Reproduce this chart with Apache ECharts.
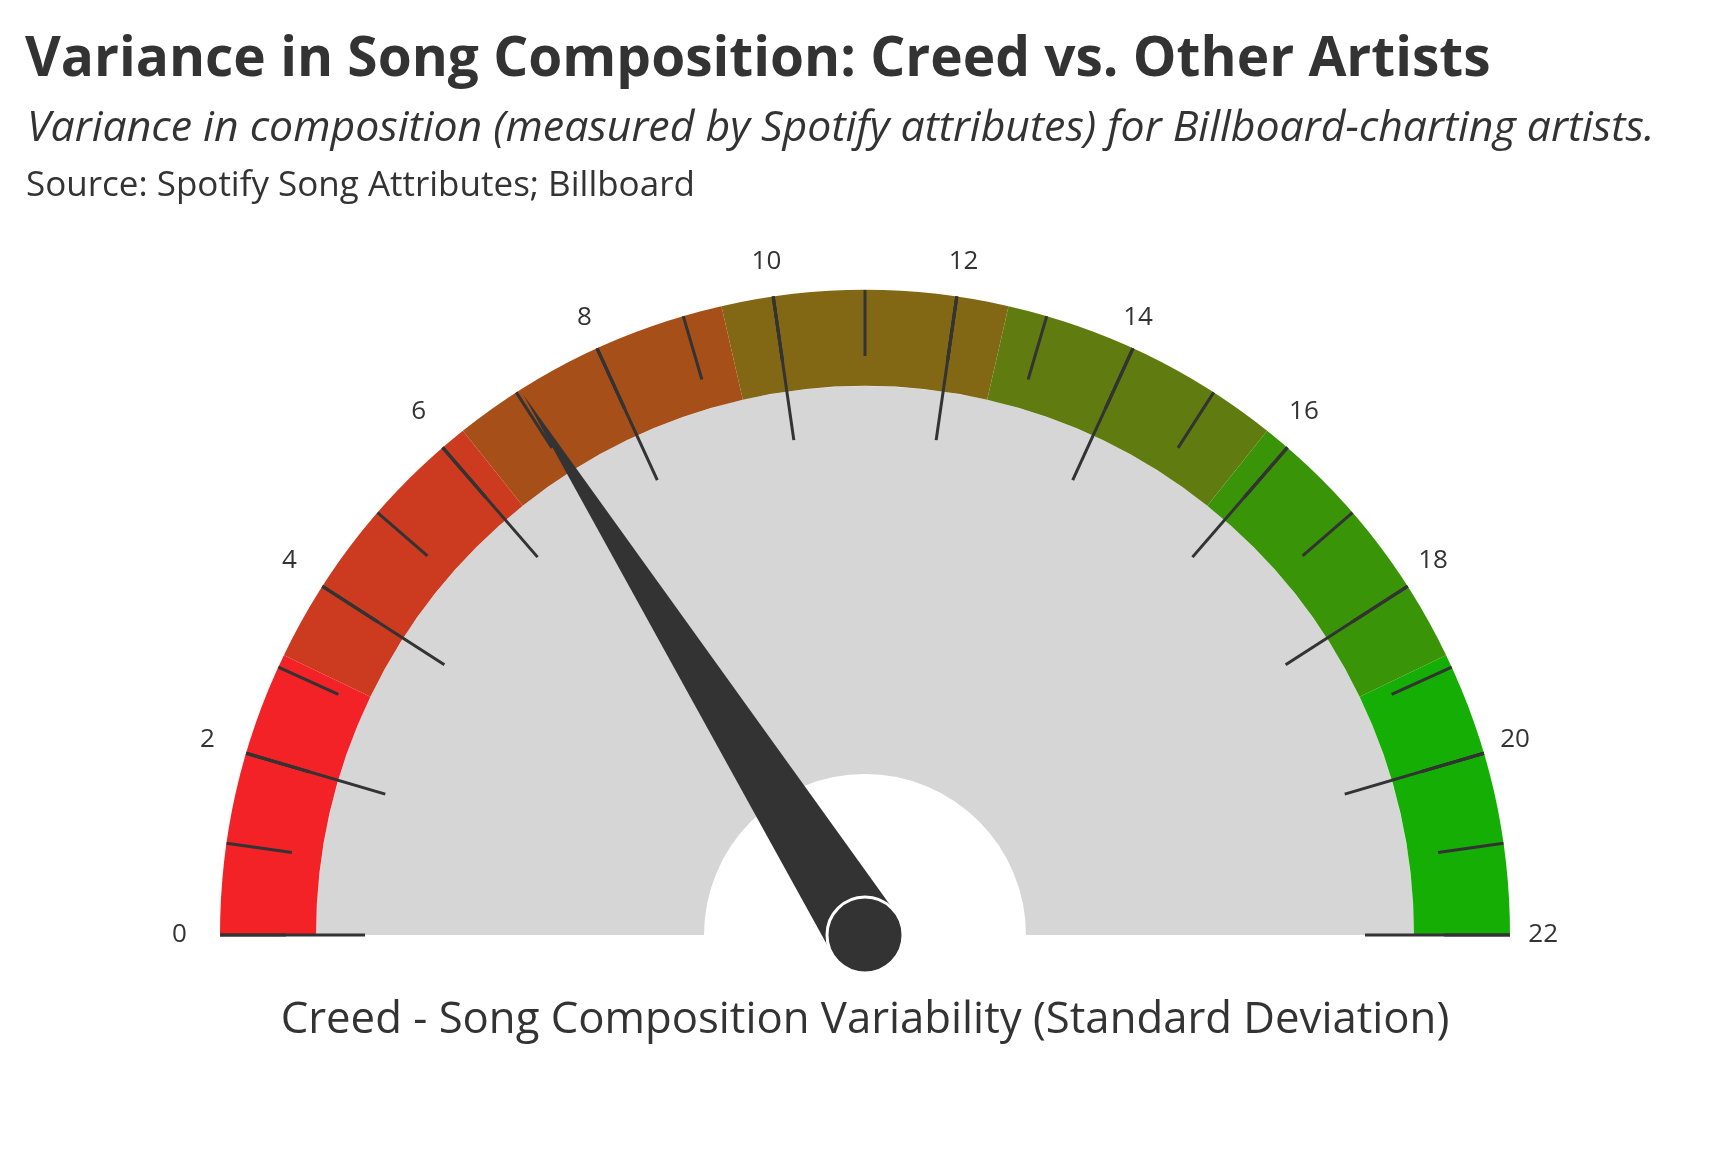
<!DOCTYPE html>
<html>
<head>
<meta charset="utf-8">
<script src="https://cdn.jsdelivr.net/npm/echarts@6/dist/echarts.min.js"></script>
<style>
  html, body { margin: 0; padding: 0; background: #fff; }
  #chart { width: 1720px; height: 1150px; }
</style>
</head>
<body>
<div id="chart"></div>
<script>
// gauge data
var gaugeName = 'Creed - Song Composition Variability (Standard Deviation)';
var gaugeValue = [7.05];
var axisMin = 0;
var axisMax = 22;
var stepEnds = [22 / 7, 44 / 7, 66 / 7, 88 / 7, 110 / 7, 132 / 7, 22];
var stepColors = ['#F22227', '#CC3A1F', '#A74F18', '#826715', '#607C11', '#3A9408', '#15AE04'];

var chart = echarts.init(document.getElementById('chart'));

var bandStops = [];
for (var i = 0; i < stepEnds.length; i++) {
  bandStops.push([(stepEnds[i] - axisMin) / (axisMax - axisMin), stepColors[i]]);
}

var font = 'Open Sans';

var option = {
  backgroundColor: '#fff',
  title: [
    {
      text: 'Variance in Song Composition: Creed vs. Other Artists',
      left: 20, top: 28,
      textStyle: { fontFamily: font, fontWeight: 'bold', fontSize: 55, color: '#333' }
    },
    {
      text: 'Variance in composition (measured by Spotify attributes) for Billboard-charting artists.',
      left: 22, top: 102,
      textStyle: { fontFamily: font, fontStyle: 'italic', fontWeight: 'normal', fontSize: 42.8, color: '#333' }
    },
    {
      text: 'Source: Spotify Song Attributes; Billboard',
      left: 21, top: 164,
      textStyle: { fontFamily: font, fontWeight: 'normal', fontSize: 35, color: '#333' }
    }
  ],
  series: [
    {
      // grey inner fill
      type: 'gauge',
      center: [865, 935],
      radius: 549,
      startAngle: 180, endAngle: 0,
      min: axisMin, max: axisMax,
      axisLine: { lineStyle: { width: 388, color: [[1, '#D6D6D6']] } },
      axisTick: { show: false },
      splitLine: { show: false },
      axisLabel: { show: false },
      pointer: { show: false },
      anchor: { show: false },
      title: { show: false },
      detail: { show: false },
      silent: true,
      data: []
    },
    {
      type: 'gauge',
      center: [865, 935],
      radius: 645,
      startAngle: 180, endAngle: 0,
      min: axisMin, max: axisMax,
      splitNumber: 11,
      axisLine: { lineStyle: { width: 96, color: bandStops } },
      splitLine: {
        distance: -96, length: 145,
        lineStyle: { color: '#333', width: 3 }
      },
      axisTick: {
        splitNumber: 2, distance: -96, length: 66,
        lineStyle: { color: '#333', width: 3 }
      },
      axisLabel: {
        distance: -97,
        color: '#333', fontFamily: font, fontSize: 26
      },
      pointer: {
        icon: 'triangle',
        length: '99%',
        width: 76,
        offsetCenter: [0, 0],
        itemStyle: { color: '#333' }
      },
      anchor: {
        show: true, showAbove: true, size: 76, icon: 'circle',
        itemStyle: { color: '#333', borderColor: '#fff', borderWidth: 3 }
      },
      title: {
        offsetCenter: [0, 86],
        color: '#333', fontFamily: font, fontSize: 43.7
      },
      detail: { show: false },
      data: [{ value: gaugeValue[0], name: gaugeName }]
    }
  ]
};

chart.setOption(option);
</script>
</body>
</html>
